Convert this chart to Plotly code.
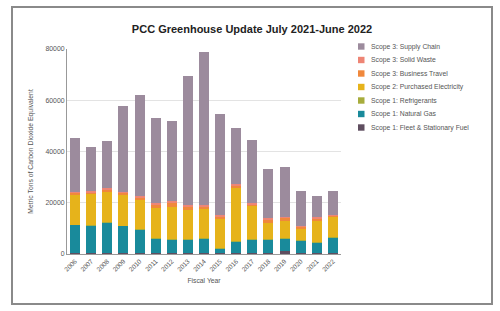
import plotly.graph_objects as go

years = [str(y) for y in range(2006, 2023)]

fleet = [300, 300, 300, 300, 200, 200, 200, 200, 200, 200, 200, 200, 300, 1200, 200, 200, 200]
natural_gas = [11100, 11000, 12100, 10700, 9300, 5800, 5500, 5500, 5700, 2000, 4800, 5400, 5400, 4900, 5000, 4400, 6300]
refrigerants = [100, 100, 100, 100, 100, 200, 200, 200, 200, 100, 100, 100, 100, 100, 100, 100, 100]
electricity = [11600, 11900, 11700, 11800, 11600, 11800, 12300, 11400, 11500, 11400, 20700, 12900, 6300, 6500, 4500, 8300, 8100]
business_travel = [800, 800, 1100, 1000, 900, 1500, 1900, 1300, 1000, 1000, 1000, 900, 1500, 1500, 900, 900, 300]
solid_waste = [300, 300, 400, 400, 400, 400, 400, 400, 400, 400, 400, 400, 400, 400, 400, 400, 400]
supply_chain = [20900, 17500, 18500, 33600, 39700, 33300, 31400, 50400, 60000, 39700, 21800, 24500, 19000, 19300, 13400, 8300, 9200]

series = [
    ("Scope 1: Fleet & Stationary Fuel", fleet, "#5f4e60"),
    ("Scope 1: Natural Gas", natural_gas, "#198a9b"),
    ("Scope 1: Refrigerants", refrigerants, "#a7ac3c"),
    ("Scope 2: Purchased Electricity", electricity, "#e6b31b"),
    ("Scope 3: Business Travel", business_travel, "#f0883c"),
    ("Scope 3: Solid Waste", solid_waste, "#ee8575"),
    ("Scope 3: Supply Chain", supply_chain, "#9c8b9d"),
]

fig = go.Figure()
for name, vals, col in series:
    fig.add_trace(go.Bar(x=years, y=vals, name=name, marker_color=col,
                         marker_line_width=0, showlegend=False))

# plot area: x 67..341 px, y 49..254 px
pw, ph = 274, 205
def px_x(p):
    return (p - 67) / pw
def px_y(p):
    return (254 - p) / ph

shapes = [dict(type="rect", xref="paper", yref="paper", layer="above",
               x0=px_x(12), x1=px_x(492), y0=px_y(304), y1=px_y(7),
               line=dict(color="#8a8a8a", width=2))]
annotations = []
# legend, top entry is the last series
for i, (name, vals, col) in enumerate(reversed(series)):
    cy = 46.5 + i * 13.5
    shapes.append(dict(type="rect", xref="paper", yref="paper",
                       x0=px_x(358), x1=px_x(364.5), y0=px_y(cy + 3.2), y1=px_y(cy - 3.2),
                       line=dict(width=0), fillcolor=col))
    annotations.append(dict(text=name, xref="paper", yref="paper", x=px_x(368.5), y=px_y(cy),
                            xanchor="left", yanchor="middle", showarrow=False,
                            font=dict(size=6.8, color="#555555")))

fig.update_layout(
    template="none",
    barmode="stack",
    bargap=0.38,
    width=500, height=311,
    margin=dict(l=67, r=159, t=49, b=57),
    paper_bgcolor="white", plot_bgcolor="white",
    font=dict(family="Liberation Sans, Arial, sans-serif", color="#555555"),
    title=dict(text="<b>PCC Greenhouse Update July 2021-June 2022</b>",
               x=0.504, xref="container", xanchor="center",
               y=1 - 29 / 311, yref="container", yanchor="middle",
               font=dict(size=11, color="#222222")),
    shapes=shapes,
    annotations=annotations,
    xaxis=dict(type="category",
               title=dict(text="Fiscal Year", font=dict(size=6.8, color="#555555"), standoff=6),
               tickangle=-45, tickfont=dict(size=6.5, color="#555555"),
               showline=True, linecolor="#999999", linewidth=1, ticks="",
               showgrid=False, zeroline=False),
    yaxis=dict(title=dict(text="Metric Tons of Carbon Dioxide Equivalent",
                          font=dict(size=6.8, color="#555555"), standoff=11),
               range=[0, 80000], dtick=20000, tickformat="d", ticks="",
               tickfont=dict(size=6.9, color="#555555"),
               showline=True, linecolor="#999999", linewidth=1,
               showgrid=True, gridcolor="#e3e3e3", zeroline=False),
)

fig.write_html("out.html", config={"displayModeBar": False},
               post_script="document.body.style.margin='0';")
